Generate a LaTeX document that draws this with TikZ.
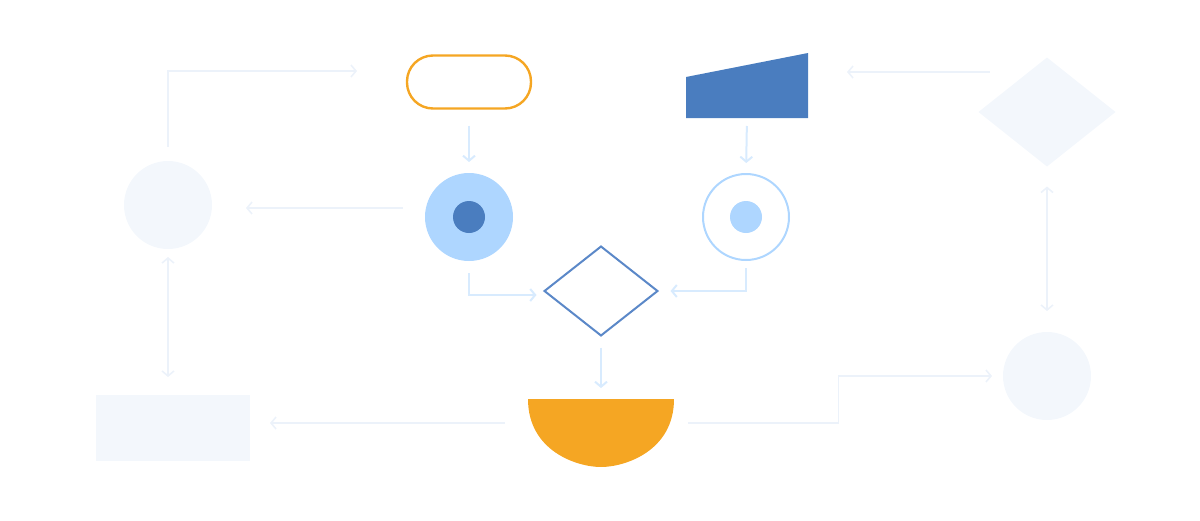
\documentclass[tikz,border=0pt]{standalone}
\usetikzlibrary{shapes.geometric,arrows.meta,calc}

\definecolor{flowOrange}{HTML}{F5A623}
\definecolor{flowDark}{HTML}{4A7DBF}
\definecolor{flowEdge}{HTML}{5B88C8}
\definecolor{flowLight}{HTML}{AED6FF}
\definecolor{flowLine}{HTML}{D8EBFE}
\definecolor{fadeFill}{HTML}{F3F7FC}
\definecolor{fadeLine}{HTML}{ECF2FA}

\tikzset{
  blank/.style = {inner sep = 0pt, outer sep = 0pt},
  inflow/.style = {draw = flowLine, line width = 1pt, -{Straight Barb[length = 2.5pt, width = 6pt]}},
  outflow/.style = {draw = fadeLine, line width = 0.8pt, -{Straight Barb[length = 2.5pt, width = 6pt]}},
  bothflow/.style = {outflow, {Straight Barb[length = 2.5pt, width = 6pt]}-{Straight Barb[length = 2.5pt, width = 6pt]}}
}

\begin{document}
\begin{tikzpicture}[x = 0.5pt, y = -0.5pt]
        \useasboundingbox (0, 0) rectangle (1200, 520);

        \node[blank, draw = flowOrange, line width = 1.2pt, rounded corners = 13pt,
          minimum width = 62pt, minimum height = 26.5pt] (pill) at (469, 82) {};

        \node[blank, minimum width = 61pt, minimum height = 32.5pt] (manual) at (747, 85.5) {};
        \fill[flowDark] (manual.south west) -- ([yshift = -12pt]manual.north west)
          -- (manual.north east) -- (manual.south east) -- cycle;

        \node[blank, circle, fill = flowLight, minimum size = 44pt] (dotA) at (469, 217) {};
        \node[blank, circle, fill = flowDark, minimum size = 16pt] at (dotA) {};

        \node[blank, circle, draw = flowLight, line width = 1pt, minimum size = 43pt] (ringB) at (746, 217) {};
        \node[blank, circle, fill = flowLight, minimum size = 16pt] at (ringB) {};

        \node[blank, diamond, draw = flowEdge, line width = 1pt,
          minimum width = 56.5pt, minimum height = 44.5pt] (decide) at (601, 291) {};

        \node[blank, minimum width = 73pt, minimum height = 34pt] (bowl) at (601, 433) {};
        \fill[flowOrange] (bowl.north west) -- (bowl.north east)
          .. controls ([yshift = -26pt]bowl.north east) and ([xshift = 12pt]bowl.south) .. (bowl.south)
          .. controls ([xshift = -12pt]bowl.south) and ([yshift = -26pt]bowl.north west) .. cycle;

        \node[blank, circle, fill = fadeFill, minimum size = 44pt] (leftcirc) at (168, 205) {};
        \node[blank, fill = fadeFill, minimum width = 77pt, minimum height = 33pt] (leftrect) at (173, 428) {};
        \node[blank, diamond, fill = fadeFill, minimum width = 68.5pt, minimum height = 54.5pt] (rightdiam) at (1047, 112) {};
        \node[blank, circle, fill = fadeFill, minimum size = 44pt] (rightcirc) at (1047, 376) {};

        \draw[inflow, shorten <= 8.5pt, shorten >= 5.5pt] (pill.south) -- (dotA.north);
        \draw[inflow, shorten <= 4pt, shorten >= 5.5pt] (manual.south) -- (ringB.north);
        \draw[inflow, shorten <= 6pt, shorten >= 4pt] (dotA.south) |- ([yshift = -2pt]decide.west);
        \draw[inflow, shorten <= 4pt, shorten >= 6.5pt] (ringB.south) |- (decide.east);
        \draw[inflow, shorten <= 6pt, shorten >= 5.5pt] (decide.south) -- (bowl.north);

        \draw[outflow, shorten <= 7pt, shorten >= 25pt] (leftcirc.north) |- ([yshift = 5.5pt]pill.west);
        \draw[outflow, shorten <= 11pt, shorten >= 17pt] ([yshift = 4.5pt]dotA.west) -- ([yshift = 4.5pt]dotA.west -| leftcirc.east);
        \draw[bothflow, shorten <= 4pt, shorten >= 9pt] (leftcirc.south) -- (leftcirc.south |- leftrect.north);
        \draw[outflow, shorten <= 11.5pt, shorten >= 10pt] ([yshift = 5pt]bowl.west) -- ([yshift = 5pt]bowl.west -| leftrect.east);
        \draw[outflow, shorten <= 7pt, shorten >= 5.5pt] ([yshift = 5pt]bowl.east)
          -| ($(bowl.east)!0.5!(rightcirc.west)$) |- (rightcirc.west);
        \draw[outflow, shorten >= 19.5pt] ([xshift = 5.5pt, yshift = 20pt]rightdiam.west) -- ([yshift = 20pt]rightdiam.west -| manual.east);
        \draw[bothflow, shorten <= 10pt, shorten >= 10.5pt] (rightdiam.south) -- (rightcirc.north);
      \end{tikzpicture}
\end{document}
